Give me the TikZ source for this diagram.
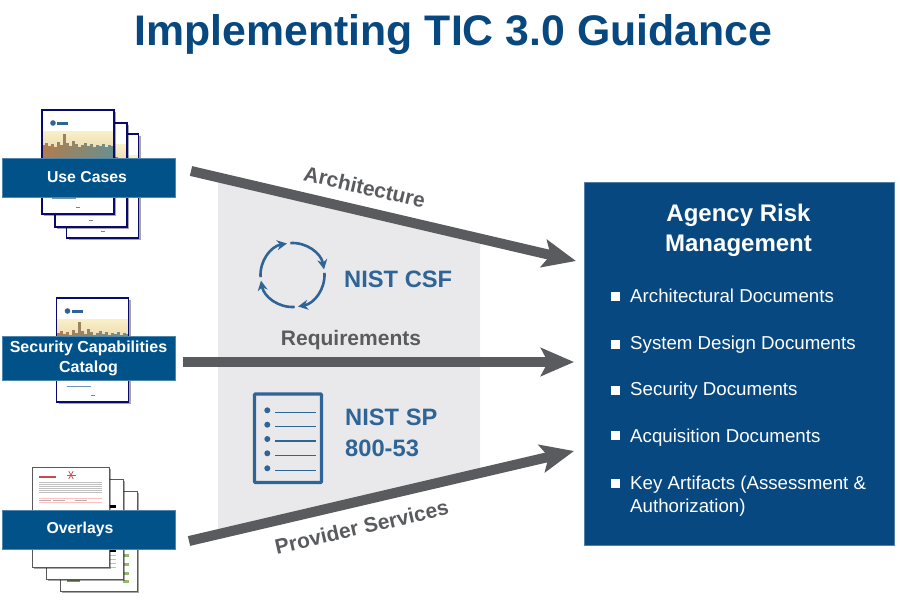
\documentclass[tikz,border=0pt]{standalone}
\usepackage{fontspec}
\setmainfont{Liberation Sans}
\usetikzlibrary{arrows.meta,shadows}
\definecolor{colnavy}{RGB}{8,72,128}
\definecolor{colbanner}{RGB}{2,82,138}
\definecolor{colicon}{RGB}{47,100,150}
\definecolor{colarrow}{RGB}{90,91,94}
\definecolor{colback}{RGB}{233,233,235}
\definecolor{colrim}{RGB}{10,10,110}
\definecolor{colsand}{RGB}{250,240,200}
\definecolor{colbrick}{RGB}{175,125,80}
\definecolor{colteal}{RGB}{100,145,145}
\definecolor{colleaf}{RGB}{150,185,110}
\tikzset{
  banner/.style={
    fill=colbanner,
    draw=colbanner!70!white,
    line width=.6pt,
    minimum width=173pt,
    align=center,
    text=white,
    font=\fontsize{15.8}{20}\selectfont\bfseries
  },
  flow/.style={
    draw=colarrow,
    line width=10pt,
    -{Stealth[length=33pt,width=28pt,inset=7pt]}
  },
  flowlabel/.style={
    text=colarrow,
    font=\fontsize{21}{25}\selectfont\bfseries
  },
  nistlabel/.style={
    text=colicon,
    align=left,
    anchor=west,
    inner sep=0pt,
    font=\fontsize{23.7}{31}\selectfont\bfseries
  },
  bullet/.style={fill=white,inner sep=0pt,minimum size=8.7pt},
  itemtext/.style={
    text=white,
    align=left,
    anchor=base west,
    inner sep=0pt,
    font=\fontsize{18.7}{23.7}\selectfont
  },
  papershadow/.style={
    drop shadow={shadow xshift=2pt,shadow yshift=-2pt,opacity=.35,fill=black}
  }
}
% cover page, 72 by 104, upper left corner at #1,#2
\newcommand{\coverpage}[2]{
  \begin{scope}[shift={(#1,#2)}]
    \fill[white,papershadow] (0,0) rectangle (72,104);
    \shade[top color=colsand,bottom color=colsand!70!colbrick] (0,21) rectangle (72,50);
    \foreach \i/\h in {0/35,1/33,2/36,3/34,4/37,5/32,6/35,7/24,8/33,9/36,10/31,11/34,
        12/37,13/35,14/33,15/36,16/34,17/37,18/35,19/36,20/34,21/37,22/35,23/36}
      \pgfmathtruncatemacro{\mixval}{100-\i*4}
      \fill[colbrick!\mixval!colteal] (\i*3,\h) rectangle (\i*3+3,50);
    \fill[colicon] (11,13) circle (2.8);
    \fill[colicon] (15,11.5) rectangle (26,14.5);
    \draw[colicon!70!white,line width=1pt] (10,88) -- (34,88);
    \fill[gray] (34,96.5) rectangle (38,97.5);
    \draw[colrim,line width=1.4pt] (0,0) rectangle (72,104);
  \end{scope}
}
% plain sheet, 77 by 100, upper left corner at #1,#2
\newcommand{\plainsheet}[2]{
  \fill[white,papershadow] (#1,#2) rectangle ++(77,100);
  \draw[black!65,line width=1pt] (#1,#2) rectangle ++(77,100);
}

\begin{document}
\begin{tikzpicture}[x=1pt,y=-1pt]
  \useasboundingbox (0,0) rectangle (900,600);

  % The title
  \node[text=colnavy,font=\fontsize{42.8}{50}\selectfont\bfseries] (title) at (453.5,34.5)
    {Implementing TIC 3.0 Guidance};

  % The documents
  \coverpage{66.5}{134}
  \coverpage{55}{123}
  \coverpage{42}{110}
  \coverpage{56.5}{298}

  \plainsheet{60}{491}
  \foreach \y in {554,563,572,580}
    \fill[colleaf] (123,\y) rectangle (129,\y+3);
  \fill[colleaf!80!black] (67,579) rectangle (80,582);
  \plainsheet{46}{479}
  \fill[black] (109,505) rectangle (116,508);
  \fill[black] (109,549) rectangle (116,552);
  \foreach \y in {555,559,563,567}
    \draw[black!25,line width=.6pt] (109,\y) -- (116,\y);
  \fill[black!45] (53,566) rectangle (68,568);
  \plainsheet{32}{467}
  \fill[red!70!black!70] (39,476) rectangle (56,477.5);
  \foreach \a in {0,60,120}
    \draw[red!75!black!70,line width=.8pt] (71,475) ++(\a:4.5) -- ++(\a+180:9);
  \foreach \y in {482,484,486,488,490,492}
    \draw[black!25,line width=.8pt] (39,\y) -- (102,\y);
  \draw[red!25,line width=.5pt] (39,498) -- (102,498);
  \draw[red!25,line width=.5pt] (39,502) -- (102,502);
  \foreach \x in {39,53,75}
    \fill[black!30] (\x,499.5) rectangle (\x+12,501);

  % The banners
  \node[banner,minimum height=39pt] (usecases) at (88.5,177.5) {Use Cases\hspace{3pt}};
  \node[banner,minimum height=44.5pt,font=\fontsize{16}{20}\selectfont\bfseries] (catalog)
    at (88.5,358.5) {Security Capabilities\\Catalog};
  \node[banner,minimum height=39pt] (overlays) at (88.5,529.5) {Overlays\hspace{17pt}};

  % The grey band
  \fill[colback] (218,178) -- (480,238) -- (480,470) -- (218,532) -- cycle;

  % The panel
  \node[fill=colnavy,draw=colnavy!70!white,line width=.6pt,minimum width=310pt,
    minimum height=363pt] (panel) at (739.5,363.5) {};
  \node[text=white,align=center,font=\fontsize{24}{30}\selectfont\bfseries] (paneltitle)
    at (738.5,230) {Agency Risk\\Management};
  \foreach \i/\my/\by/\txt in {1/296.7/302.7/Architectural Documents,
      2/344.5/349/System Design Documents,3/390.3/395.7/Security Documents,
      4/435.5/442.7/Acquisition Documents}{
    \node[bullet] (mark\i) at (615.8,\my) {};
    \node[itemtext] (item\i) at (630,\by) {\txt};
  }
  \node[bullet] (mark5) at (615.8,483.5) {};
  \node[itemtext] (item5) at (630,512.7) {Key Artifacts (Assessment \&\\Authorization)};

  % The arrows
  \coordinate (archstart) at (191,171);
  \coordinate (archend) at (576,261);
  \coordinate (reqstart) at (183,362);
  \coordinate (reqend) at (574,362);
  \coordinate (provstart) at (189,541);
  \coordinate (provend) at (574,451);
  \draw[flow] (archstart) -- (archend);
  \draw[flow] (reqstart) -- (reqend);
  \draw[flow] (provstart) -- (provend);
  \node[flowlabel,rotate=-13] (archlabel) at (364.7,187) {Architecture};
  \node[flowlabel] (reqlabel) at (351,340) {Requirements};
  \node[flowlabel,rotate=13] (provlabel) at (361.7,527) {Provider Services};

  % The cycle
  \coordinate (cyc) at (292.5,275);
  \foreach \a in {-94,-4,86,176}
    \draw[colicon,line width=2.6pt,-{Stealth[length=10pt,width=10pt]}]
      ([shift={(\a:32)}]cyc) arc[start angle=\a,end angle=\a+84,radius=32];
  \node[nistlabel] (csf) at (344,279) {NIST CSF};

  % The list
  \draw[colicon,line width=3.4pt,rounded corners=1pt] (254.5,394) rectangle (321.5,482.5);
  \foreach \y in {410.3,424.7,439,453.3,468.3}{
    \fill[colicon] (267.3,\y) circle (3);
    \draw[colicon,line width=1.1pt] (275,\y+2) -- (316,\y+2);
  }
  \node[nistlabel] (sp) at (345,432.5) {NIST SP\\800-53};
\end{tikzpicture}
\end{document}
